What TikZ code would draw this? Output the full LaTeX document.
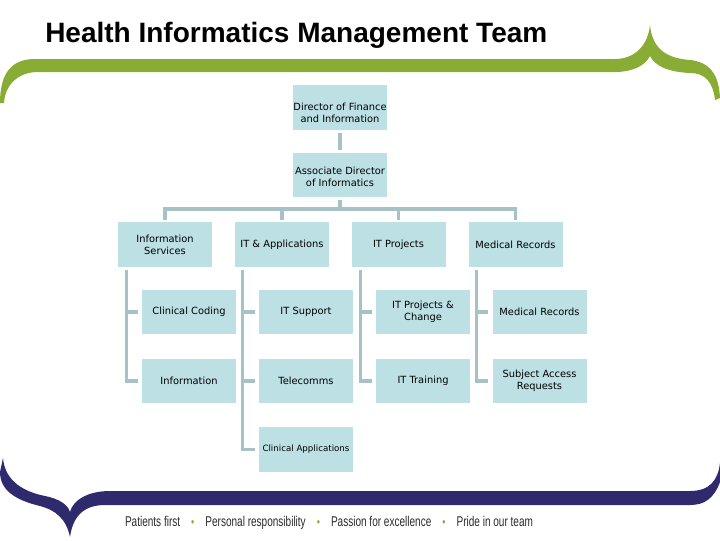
\documentclass[tikz,border=0pt]{standalone}
\usepackage{fontspec}
\setmainfont{DejaVu Sans}
\newfontfamily\titlefont{Liberation Sans}
\usetikzlibrary{calc}
\definecolor{boxfill}{HTML}{BCE0E4}
\definecolor{connc}{HTML}{A6C2C7}
\definecolor{bandgreen}{HTML}{89AC35}
\definecolor{bandpurple}{HTML}{2F296E}
\definecolor{taggrey}{HTML}{2A2A2A}
\tikzset{
  bx/.style={fill=boxfill, minimum width=70.5pt, minimum height=33.5pt, inner sep=0pt,
    align=center, font=\fontsize{7.4}{9}\selectfont},
  conn/.style={draw=connc, line width=2.3pt, line join=miter, shorten <=1.8pt, shorten >=1.8pt},
  brn/.style={draw=connc, line width=2.3pt, line join=miter, shorten <=2pt, shorten >=3pt}
}
\newcommand{\lowtext}[2]{\raisebox{#1}[\height][\depth]{\begin{tabular}{@{}c@{}}#2\end{tabular}}}
\newcommand{\tagdot}{\hspace{1.1em}{\color{bandgreen}\raisebox{0.5pt}{\scalebox{0.9}{•}}}\hspace{1.1em}}
\begin{document}
\begin{tikzpicture}[x=0.75pt,y=-0.75pt]
\useasboundingbox (0,0) rectangle (720,540);
% title
\node[anchor=base west, inner sep=0pt, font=\titlefont\bfseries\fontsize{21}{25}\selectfont] (title) at (45,42) {Health Informatics Management Team};
% green band
\fill[bandgreen] (0,103) .. controls (0,75) and (10,59) .. (35,59) -- (615,59)
  .. controls (635,59) and (648,45) .. (650,25)
  .. controls (652,45) and (662,58) .. (690,60)
  .. controls (710,62) and (719,75) .. (720,98) -- (715,100)
  .. controls (713,82) and (705,73) .. (690,73)
  .. controls (668,72) and (655,66) .. (650,56)
  .. controls (645,66) and (632,72) .. (615,72) -- (38,72)
  .. controls (18,72) and (5,85) .. (4,103) -- cycle;
% purple band
\fill[bandpurple] (3,458) .. controls (5,482) and (25,492) .. (45,496)
  .. controls (60,499) and (68,505) .. (70,512)
  .. controls (73,500) and (88,491) .. (110,491) -- (690,491)
  .. controls (710,491) and (718,480) .. (720,463) -- (720,482)
  .. controls (714,498) and (705,505) .. (690,505) -- (105,505)
  .. controls (85,505) and (73,515) .. (70,537)
  .. controls (66,518) and (55,510) .. (40,506)
  .. controls (15,500) and (0,490) .. (0,472) -- cycle;
% tagline
\node[inner sep=0pt, text=taggrey] (tag) at (329,523) {\resizebox{306pt}{\height}{\titlefont\fontsize{10.6}{12}\selectfont Patients first\tagdot Personal responsibility\tagdot Passion for excellence\tagdot Pride in our team}};
% boxes
\node[bx] (dir) at (340,107.5) {\lowtext{-5pt}{Director of Finance\\and Information}};
\node[bx] (assoc) at (340,175) {\lowtext{-2pt}{Associate Director\\of Informatics}};
\node[bx] (is) at (165,244.5) {Information\\Services};
\node[bx] (ita) at (282,244.5) {IT \& Applications};
\node[bx] (itp) at (398.5,244.5) {IT Projects};
\node[bx] (mr) at (515.5,244.5) {Medical Records};
\node[bx] (cc) at (189,312) {Clinical Coding};
\node[bx] (inf) at (189,381) {Information};
\node[bx] (its) at (306,312) {IT Support};
\node[bx] (tel) at (306,381) {Telecomms};
\node[bx, font=\fontsize{6.5}{8}\selectfont] (ca) at (306,449.5) {Clinical Applications};
\node[bx] (itpc) at (423,312) {IT Projects \&\\Change};
\node[bx] (itt) at (423,381) {IT Training};
\node[bx] (mr2) at (539.5,312) {Medical Records};
\node[bx] (sar) at (539.5,381) {Subject Access\\Requests};
% connectors
\draw[conn] (dir) -- (assoc);
\coordinate (bus) at (340,209);
\draw[conn, shorten >=0pt] (assoc) -- (bus);
\draw[conn, shorten >=0pt] (is.north) |- (bus);
\draw[conn, shorten >=0pt] (mr.north) |- (bus);
\draw[conn, shorten >=0pt] (ita.north) -- (ita.north |- bus);
\draw[conn, shorten >=0pt] (itp.north) -- (itp.north |- bus);
\coordinate (s1) at ($(is.south west)+(9,0)$);
\coordinate (s2) at ($(ita.south west)+(8,0)$);
\coordinate (s3) at ($(itp.south west)+(9,0)$);
\coordinate (s4) at ($(mr.south west)+(8,0)$);
\draw[brn] (s1) |- (cc.west);
\draw[brn] (s1) |- (inf.west);
\draw[brn] (s2) |- (its.west);
\draw[brn] (s2) |- (tel.west);
\draw[brn] (s2) |- (ca.west);
\draw[brn] (s3) |- (itpc.west);
\draw[brn] (s3) |- (itt.west);
\draw[brn] (s4) |- (mr2.west);
\draw[brn] (s4) |- (sar.west);
\end{tikzpicture}
\end{document}
